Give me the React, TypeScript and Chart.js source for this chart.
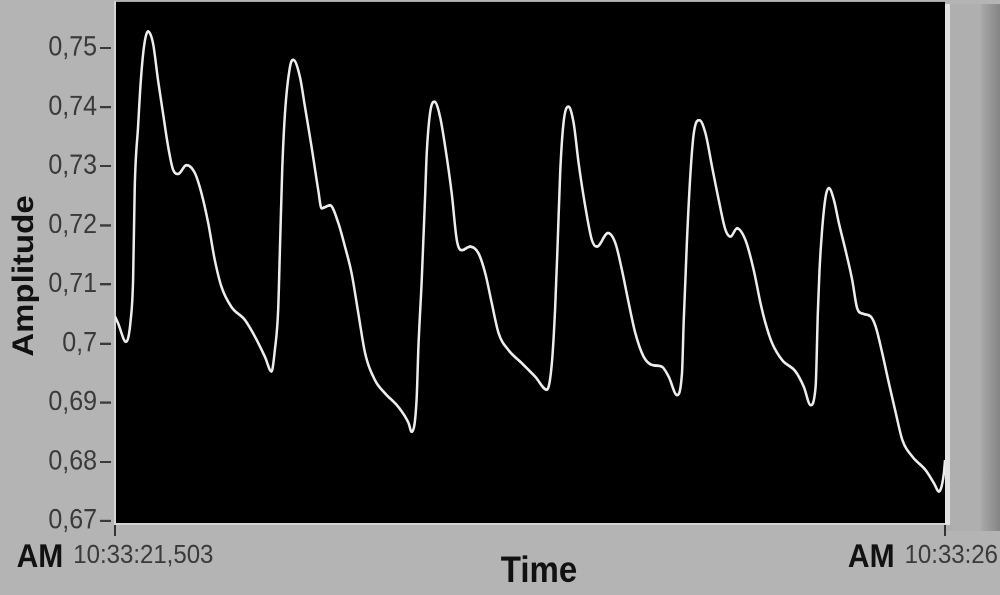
import { useEffect, useRef } from "react";
import { Chart, registerables } from "chart.js";

Chart.register(...registerables);

// ---- data ----
const timeSec = [
  21.503, 21.519, 21.563, 21.588, 21.601, 21.61, 21.628, 21.642, 21.66, 21.682,
  21.709, 21.736, 21.763, 21.791, 21.818, 21.845, 21.89, 21.935, 21.971, 22.008,
  22.044, 22.08, 22.134, 22.207, 22.261, 22.315, 22.351, 22.369, 22.387, 22.396,
  22.409, 22.424, 22.451, 22.469, 22.505, 22.532, 22.568, 22.604, 22.622, 22.668,
  22.713, 22.749, 22.785, 22.821, 22.858, 22.912, 22.966, 23.038, 23.093, 23.11,
  23.137, 23.147, 23.165, 23.183, 23.192, 23.21, 23.234, 23.264, 23.292, 23.327,
  23.355, 23.382, 23.427, 23.472, 23.509, 23.544, 23.581, 23.635, 23.707, 23.78,
  23.843, 23.87, 23.888, 23.902, 23.915, 23.933, 23.96, 23.988, 24.015, 24.051,
  24.087, 24.114, 24.174, 24.214, 24.25, 24.286, 24.322, 24.367, 24.412, 24.466,
  24.503, 24.548, 24.575, 24.584, 24.602, 24.621, 24.639, 24.669, 24.702, 24.738,
  24.774, 24.811, 24.838, 24.873, 24.919, 24.964, 25.0, 25.027, 25.063, 25.118,
  25.19, 25.235, 25.272, 25.299, 25.311, 25.32, 25.334, 25.353, 25.371, 25.398,
  25.425, 25.461, 25.497, 25.524, 25.551, 25.597, 25.624, 25.66, 25.696, 25.733,
  25.769, 25.823, 25.895, 25.94, 25.967, 25.994, 26.0,
];

const amplitude = [
  0.7046, 0.7035, 0.7003, 0.704, 0.7108, 0.7265, 0.7367, 0.7441, 0.7502, 0.7528,
  0.7508, 0.7446, 0.739, 0.7333, 0.7294, 0.7287, 0.7302, 0.7289, 0.7255, 0.7204,
  0.7141, 0.7096, 0.7062, 0.704, 0.7012, 0.6978, 0.6953, 0.6989, 0.7057, 0.7153,
  0.7294, 0.739, 0.7468, 0.748, 0.7451, 0.7401, 0.7333, 0.726, 0.7229, 0.7234,
  0.7204, 0.7164, 0.7119, 0.7052, 0.6984, 0.6938, 0.6916, 0.6893, 0.6866, 0.6851,
  0.6905, 0.6995, 0.7108, 0.7248, 0.7322, 0.739, 0.7409, 0.7384, 0.7333, 0.7255,
  0.7175, 0.7158, 0.7164, 0.7153, 0.7119, 0.7069, 0.7018, 0.6989, 0.6967, 0.6944,
  0.6922, 0.6967, 0.7062, 0.7175, 0.7289, 0.7373, 0.7401, 0.7373, 0.7305, 0.7232,
  0.7175, 0.7164, 0.7187, 0.717, 0.7124, 0.7069, 0.7018, 0.6978, 0.6964, 0.6961,
  0.6944, 0.6913, 0.695, 0.7035, 0.7175, 0.7289, 0.7356, 0.7378, 0.7356, 0.7299,
  0.7243, 0.7192, 0.7181, 0.7195, 0.7175, 0.7124, 0.7069, 0.7035, 0.7001, 0.6972,
  0.6953, 0.6927, 0.6896, 0.6927, 0.7052, 0.7124, 0.7192, 0.7248, 0.7263, 0.7243,
  0.7204, 0.7158, 0.7108, 0.706, 0.7051, 0.7046, 0.7029, 0.6984, 0.6933, 0.6883,
  0.6837, 0.6809, 0.6786, 0.6764, 0.675, 0.6781, 0.6803,
];

const yTickValues = [0.67, 0.68, 0.69, 0.7, 0.71, 0.72, 0.73, 0.74, 0.75];
const yTickLabels = ["0,67", "0,68", "0,69", "0,7", "0,71", "0,72", "0,73", "0,74", "0,75"];
const xTickValues = [21.503, 26.0];
const xTickLabels = ["10:33:21,503", "10:33:26"];
const xTickPrefix = "AM";
const xTitle = "Time";
const yTitle = "Amplitude";

const X_MIN = 21.503;
const X_MAX = 26.0;
const Y_MIN = 0.66949;
const Y_MAX = 0.75778;

// ---- layout ----
const W = 1000;
const H = 541;
const K = 595 / H; // vertical stretch of the reference
const FONT = '"Liberation Sans", Arial, Helvetica, sans-serif';

const decorPlugin = {
  id: "decor",
  beforeDraw(chart: any) {
    const { ctx, chartArea: a, width } = chart;
    ctx.save();
    ctx.fillStyle = "#b4b4b4";
    ctx.fillRect(0, 0, width, chart.height);
    // scrollbar-like strip at right
    const y0 = 4 / K;
    const y1 = 531 / K;
    ctx.fillStyle = "#afafaf";
    ctx.fillRect(a.right, y0, width - a.right, y1 - y0);
    const g = ctx.createLinearGradient(981, 0, 1000, 0);
    g.addColorStop(0, "#a9a9a9");
    g.addColorStop(1, "#858585");
    ctx.fillStyle = g;
    ctx.fillRect(981, y0, 19, y1 - y0);
    ctx.fillStyle = "#e2e2e2";
    ctx.fillRect(a.right, y0, 5, 525 / K - y0);
    // plot background
    ctx.fillStyle = "#000000";
    ctx.fillRect(a.left, a.top, a.right - a.left, a.bottom - a.top);
    ctx.restore();
  },
  afterDraw(chart: any) {
    const { ctx } = chart;
    const xs = chart.scales.x;
    ctx.save();
    ctx.textBaseline = "alphabetic";
    ctx.textAlign = "left";
    xTickValues.forEach((v, i) => {
      const px = xs.getPixelForValue(v);
      ctx.font = `bold 30px ${FONT}`;
      const wA = ctx.measureText(xTickPrefix).width;
      ctx.font = `24px ${FONT}`;
      const wD = ctx.measureText(xTickLabels[i]).width;
      const gap = 10;
      const total = wA + gap + wD;
      let left = px - total / 2;
      left = Math.min(left, chart.width - 2 - total);
      left = Math.max(left, 2);
      ctx.font = `bold 30px ${FONT}`;
      ctx.fillStyle = "#111111";
      ctx.fillText(xTickPrefix, left, 567 / K);
      ctx.font = `24px ${FONT}`;
      ctx.fillStyle = "#3a3a3a";
      ctx.fillText(xTickLabels[i], left + wA + gap, 563 / K);
    });
    // axis titles
    ctx.fillStyle = "#111111";
    ctx.textAlign = "center";
    ctx.font = `bold 33px ${FONT}`;
    ctx.fillText(xTitle, 539, 582 / K);
    ctx.translate(33, 276 / K);
    ctx.rotate(-Math.PI / 2);
    ctx.font = `bold 30px ${FONT}`;
    ctx.fillText(yTitle, 0, 0);
    ctx.restore();
  },
};

export default function App() {
  const canvasRef = useRef<HTMLCanvasElement | null>(null);

  useEffect(() => {
    document.body.style.margin = "0";
    const canvas = canvasRef.current;
    if (!canvas) return;
    const points = timeSec.map((t, i) => ({ x: t, y: amplitude[i] }));
    const chart = new Chart(canvas, {
      type: "line",
      data: {
        datasets: [
          {
            data: points,
            borderColor: "#ededed",
            borderWidth: 2.5,
            pointRadius: 0,
            fill: false,
            cubicInterpolationMode: "monotone",
          },
        ],
      },
      options: {
        animation: false,
        responsive: false,
        maintainAspectRatio: false,
        devicePixelRatio: 2,
        parsing: false as any,
        layout: { padding: { top: 2 / K, right: W - 945, left: 0, bottom: 0 } },
        plugins: { legend: { display: false }, tooltip: { enabled: false }, title: { display: false } },
        scales: {
          x: {
            type: "linear",
            min: X_MIN,
            max: X_MAX,
            afterBuildTicks: (s: any) => {
              s.ticks = xTickValues.map((v) => ({ value: v }));
            },
            afterFit: (s: any) => {
              s.height = H - 524 / K;
              s.paddingLeft = 0;
              s.paddingRight = 0;
            },
            ticks: { display: false },
            grid: {
              drawOnChartArea: false,
              drawTicks: true,
              tickLength: 11,
              tickColor: "#333333",
              tickWidth: 2,
            },
            border: { display: true, color: "#d4d4d4", width: 2 },
          },
          y: {
            type: "linear",
            min: Y_MIN,
            max: Y_MAX,
            afterBuildTicks: (s: any) => {
              s.ticks = yTickValues.map((v) => ({ value: v }));
            },
            afterFit: (s: any) => {
              s.width = 115;
              s.paddingTop = 0;
              s.paddingBottom = 0;
            },
            ticks: {
              padding: 3,
              color: "#3a3a3a",
              font: { family: FONT, size: 25 },
              callback: (_v: any, i: number) => yTickLabels[i],
            },
            grid: {
              drawOnChartArea: false,
              drawTicks: true,
              tickLength: 15,
              tickColor: "#3a3a3a",
              tickWidth: 2,
              tickBorderDash: [11, 4],
            },
            border: { display: true, color: "#d4d4d4", width: 2 },
          },
        },
      },
      plugins: [decorPlugin],
    });
    return () => chart.destroy();
  }, []);

  return (
    <div
      style={{
        position: "absolute",
        left: 0,
        top: 0,
        width: W,
        height: 595,
        overflow: "hidden",
        background: "#b4b4b4",
      }}
    >
      <canvas
        ref={canvasRef}
        width={W}
        height={H}
        style={{ width: W, height: H, transform: `scaleY(${K})`, transformOrigin: "0 0", display: "block" }}
      />
    </div>
  );
}
